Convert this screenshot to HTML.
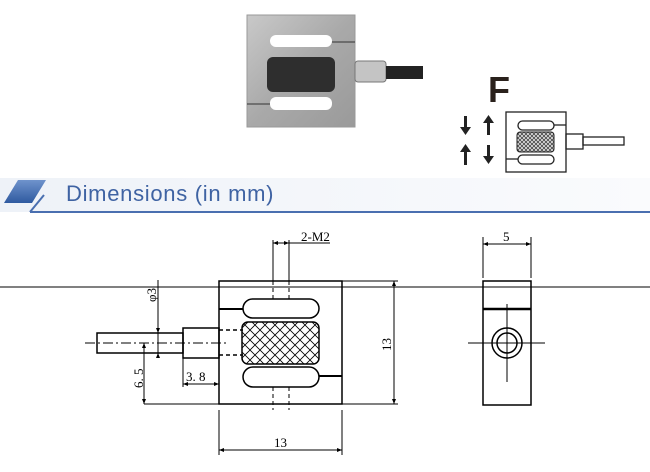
<!DOCTYPE html>
<html><head><style>
body{margin:0;background:#fff;width:650px;height:467px;overflow:hidden;font-family:"Liberation Sans",sans-serif}
</style></head><body>
<svg width="650" height="467" viewBox="0 0 650 467" xmlns="http://www.w3.org/2000/svg">
<defs>
<linearGradient id="met" x1="0" y1="0" x2="1" y2="1"><stop offset="0" stop-color="#c9c9c9"/><stop offset="0.5" stop-color="#a9a9a9"/><stop offset="1" stop-color="#9a9a9a"/></linearGradient>
<linearGradient id="hdr" x1="0" y1="0" x2="1" y2="0"><stop offset="0" stop-color="#eef2f8"/><stop offset="1" stop-color="#fafbfd"/></linearGradient>
<linearGradient id="par" x1="0" y1="0" x2="0" y2="1"><stop offset="0" stop-color="#6f93cc"/><stop offset="1" stop-color="#2f5aa0"/></linearGradient>
<pattern id="mesh" width="10" height="10" patternUnits="userSpaceOnUse"><path d="M0 0L10 10M10 0L0 10" stroke="#000" stroke-width="0.8"/></pattern>
<pattern id="mesh2" width="4" height="4" patternUnits="userSpaceOnUse"><rect width="4" height="4" fill="#ddd"/><path d="M0 0L4 4M4 0L0 4" stroke="#333" stroke-width="0.7"/></pattern>
</defs>
<!-- photo -->
<rect x="247" y="15" width="108" height="112" fill="url(#met)" stroke="#999"/>
<rect x="270" y="35" width="62" height="12" rx="6" fill="#fff"/>
<rect x="270" y="97" width="62" height="13" rx="6" fill="#fff"/>
<line x1="332" y1="42" x2="355" y2="42" stroke="#333"/>
<line x1="247" y1="104" x2="270" y2="104" stroke="#333"/>
<rect x="267" y="57" width="68" height="35" rx="6" fill="#2e2e2e"/>
<rect x="355" y="61" width="31" height="21" rx="3" fill="#c4c4c4" stroke="#777"/>
<rect x="386" y="66" width="37" height="13" fill="#222"/>
<!-- F icon -->
<text x="488" y="102" font-size="36" font-weight="bold" fill="#2a211c">F</text>
<g fill="#222">
<rect x="464" y="116" width="3" height="12"/><path d="M460 127h11l-5.5 8z"/>
<rect x="487" y="122" width="3" height="13"/><path d="M483 123h11l-5.5-8z"/>
<rect x="464" y="151" width="3" height="14"/><path d="M460 152h11l-5.5-8z"/>
<rect x="487" y="145" width="3" height="12"/><path d="M483 156h11l-5.5 8z"/>
</g>
<g fill="none" stroke="#222" stroke-width="1.3">
<rect x="506" y="112" width="60" height="60"/>
<rect x="518" y="121" width="36" height="9" rx="4.5"/>
<rect x="518" y="155" width="36" height="9" rx="4.5"/>
<line x1="554" y1="125" x2="566" y2="125"/><line x1="506" y1="159" x2="518" y2="159"/>
<rect x="566" y="134" width="17" height="15"/>
<rect x="583" y="137" width="41" height="8"/>
</g>
<rect x="517" y="132" width="37" height="20" rx="3" fill="url(#mesh2)" stroke="#222"/>
<!-- header -->
<rect x="0" y="178" width="650" height="34" fill="url(#hdr)"/>
<path d="M18 180H46L32 203H4Z" fill="url(#par)"/>
<path d="M44 195L30 212" stroke="#4a6fb0" stroke-width="2"/>
<line x1="30" y1="212" x2="650" y2="212" stroke="#4a6fb0" stroke-width="2"/>
<text x="66" y="201" font-size="22" letter-spacing="0.7" fill="#3f63a3">Dimensions (in  mm)</text>
<!-- drawing -->
<g stroke="#000" stroke-width="1" fill="none">
<line x1="0" y1="287" x2="650" y2="287"/>
<rect x="219" y="281" width="123" height="123" stroke-width="1.5"/>
<rect x="243" y="299" width="76" height="19" rx="9.5" stroke-width="1.5"/>
<rect x="243" y="367" width="76" height="20" rx="10" stroke-width="1.5"/>
<rect x="242" y="322" width="77" height="42" rx="6" fill="url(#mesh)" stroke-width="1.5"/>
<line x1="219" y1="309" x2="243" y2="309" stroke-width="2"/>
<line x1="319" y1="376" x2="342" y2="376" stroke-width="2"/>
<line x1="273" y1="240" x2="273" y2="281"/><line x1="289" y1="240" x2="289" y2="281"/>
<line x1="273" y1="281" x2="273" y2="299" stroke-dasharray="4 3"/><line x1="289" y1="281" x2="289" y2="299" stroke-dasharray="4 3"/>
<line x1="273" y1="387" x2="273" y2="410" stroke-dasharray="4 3"/><line x1="289" y1="387" x2="289" y2="410" stroke-dasharray="4 3"/>
<line x1="273" y1="243" x2="330" y2="243"/>
<line x1="219" y1="330" x2="243" y2="330" stroke-dasharray="4 3" stroke-width="1.5"/>
<line x1="219" y1="355" x2="243" y2="355" stroke-dasharray="4 3" stroke-width="1.5"/>
<rect x="183" y="328" width="36" height="30" stroke-width="1.5"/>
<rect x="97" y="333" width="86" height="20" stroke-width="1.5"/>
<line x1="85" y1="343" x2="227" y2="343" stroke-dasharray="10 3 2 3"/>
<line x1="158" y1="280" x2="158" y2="357"/>
<line x1="152" y1="333" x2="180" y2="333"/><line x1="152" y1="353" x2="180" y2="353"/>
<line x1="144" y1="343" x2="144" y2="404"/><line x1="144" y1="404" x2="219" y2="404"/>
<line x1="183" y1="358" x2="183" y2="387"/><line x1="183" y1="384" x2="219" y2="384"/>
<line x1="342" y1="281" x2="398" y2="281"/><line x1="342" y1="404" x2="398" y2="404"/>
<line x1="394" y1="281" x2="394" y2="404"/>
<line x1="219" y1="410" x2="219" y2="455"/><line x1="342" y1="410" x2="342" y2="455"/>
<line x1="219" y1="450" x2="342" y2="450"/>
<!-- side view -->
<rect x="483" y="281" width="48" height="124" stroke-width="1.5"/>
<line x1="483" y1="309" x2="531" y2="309" stroke-width="2.5"/>
<circle cx="507" cy="343" r="15" stroke-width="1.5"/><circle cx="507" cy="343" r="10" stroke-width="1.5"/>
<line x1="468" y1="343" x2="545" y2="343"/><line x1="507" y1="304" x2="507" y2="382"/>
<line x1="483" y1="237" x2="483" y2="278"/><line x1="531" y1="237" x2="531" y2="278"/>
<line x1="483" y1="244" x2="531" y2="244"/>
</g>
<g fill="#000">
<path d="M273 243l5-2v4z"/><path d="M289 243l-5-2v4z"/>
<path d="M158 333l-2-5h4z"/><path d="M158 353l-2 5h4z"/>
<path d="M144 343l-2 5h4z"/><path d="M144 404l-2-5h4z"/>
<path d="M183 384l5-2v4z"/><path d="M219 384l-5-2v4z"/>
<path d="M394 281l-2 5h4z"/><path d="M394 404l-2-5h4z"/>
<path d="M219 450l5-2v4z"/><path d="M342 450l-5-2v4z"/>
<path d="M483 244l5-2v4z"/><path d="M531 244l-5-2v4z"/>
</g>
<g font-family="Liberation Serif,serif" font-size="13" fill="#000">
<text x="301" y="241">2-M2</text>
<text x="186" y="381">3. 8</text>
<text x="274" y="447">13</text>
<text x="503" y="241">5</text>
<text transform="translate(156 302) rotate(-90)">φ3</text>
<text transform="translate(143 388) rotate(-90)">6. 5</text>
<text transform="translate(391 351) rotate(-90)">13</text>
</g>
</svg>
</body></html>
